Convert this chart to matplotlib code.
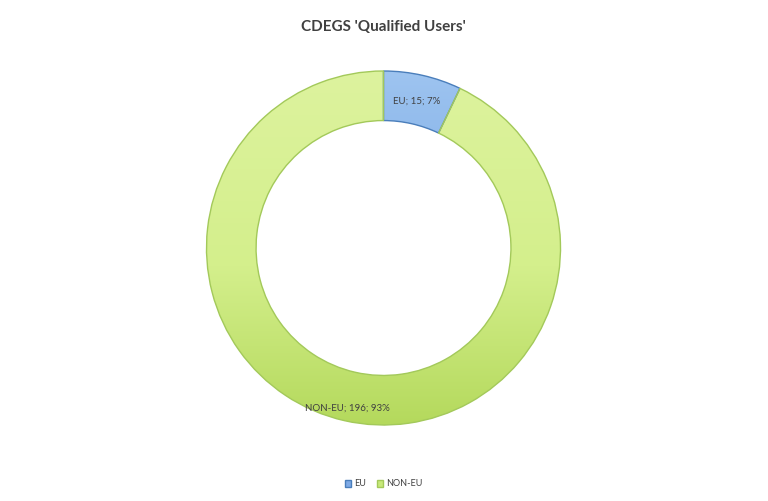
import matplotlib
matplotlib.use("Agg")
import matplotlib.pyplot as plt
import numpy as np
from matplotlib.colors import LinearSegmentedColormap

categories = ["EU", "NON-EU"]
values = [15, 196]
percents = ["7%", "93%"]
title = "CDEGS 'Qualified Users'"

grad_top = ["#9EC4F0", "#DDF39E"]
grad_mid = ["#8AB6EA", "#D4EF8C"]
grad_bot = ["#6C9DDD", "#B4D95C"]
legend_colors = ["#7FAAE6", "#C8E97A"]
edge_colors = ["#4A7EBB", "#A3C95A"]

plt.rcParams['font.family'] = ['Lato', 'DejaVu Sans']

W, H = 768, 501
fig = plt.figure(figsize=(W / 100, H / 100), dpi=100)
cx, cy, R = 383.5, 248, 177
ax = fig.add_axes([(cx - R) / W, (H - cy - R) / H, 2 * R / W, 2 * R / H])

wedges, _ = ax.pie(values, colors=legend_colors, startangle=90, counterclock=False,
                   radius=1.0, wedgeprops=dict(width=0.28, linewidth=1.0))
for w, ec, t, m, b in zip(wedges, edge_colors, grad_top, grad_mid, grad_bot):
    w.set_edgecolor(ec)
    w.set_facecolor("none")
    w.set_zorder(3)
    verts = w.get_path().vertices
    x0, x1 = verts[:, 0].min(), verts[:, 0].max()
    y0, y1 = verts[:, 1].min(), verts[:, 1].max()
    cmap = LinearSegmentedColormap.from_list("g", [(0, b), (0.45, m), (1, t)])
    grad = np.linspace(0, 1, 256).reshape(-1, 1)
    im = ax.imshow(grad, cmap=cmap, origin="lower", extent=[x0, x1, y0, y1],
                   aspect="auto", zorder=2, interpolation="bilinear")
    im.set_clip_path(w)

dists = [0.85, 0.93]
for w, cat, v, p, d in zip(wedges, categories, values, percents, dists):
    ang = np.deg2rad((w.theta1 + w.theta2) / 2)
    ax.text(d * np.cos(ang), d * np.sin(ang), f"{cat}; {v}; {p}",
            ha="center", va="center", fontsize=7, color="#404040", zorder=5)

ax.set_xlim(-1, 1)
ax.set_ylim(-1, 1)
ax.set_aspect("equal")
ax.axis("off")

fig.text(cx / W, 1 - 27 / H, title, ha="center", va="center",
         fontsize=11, fontweight="bold", color="#404040")

handles = [plt.Rectangle((0, 0), 1, 1, facecolor=fc, edgecolor=ec)
           for fc, ec in zip(legend_colors, edge_colors)]
fig.legend(handles, categories, loc="center", bbox_to_anchor=(cx / W, 1 - 484 / H),
           ncol=2, frameon=False, fontsize=6.5, handlelength=0.7, handleheight=0.7,
           handletextpad=0.3, columnspacing=1.2, labelcolor="#404040")

fig.savefig("out.png", dpi=100)
